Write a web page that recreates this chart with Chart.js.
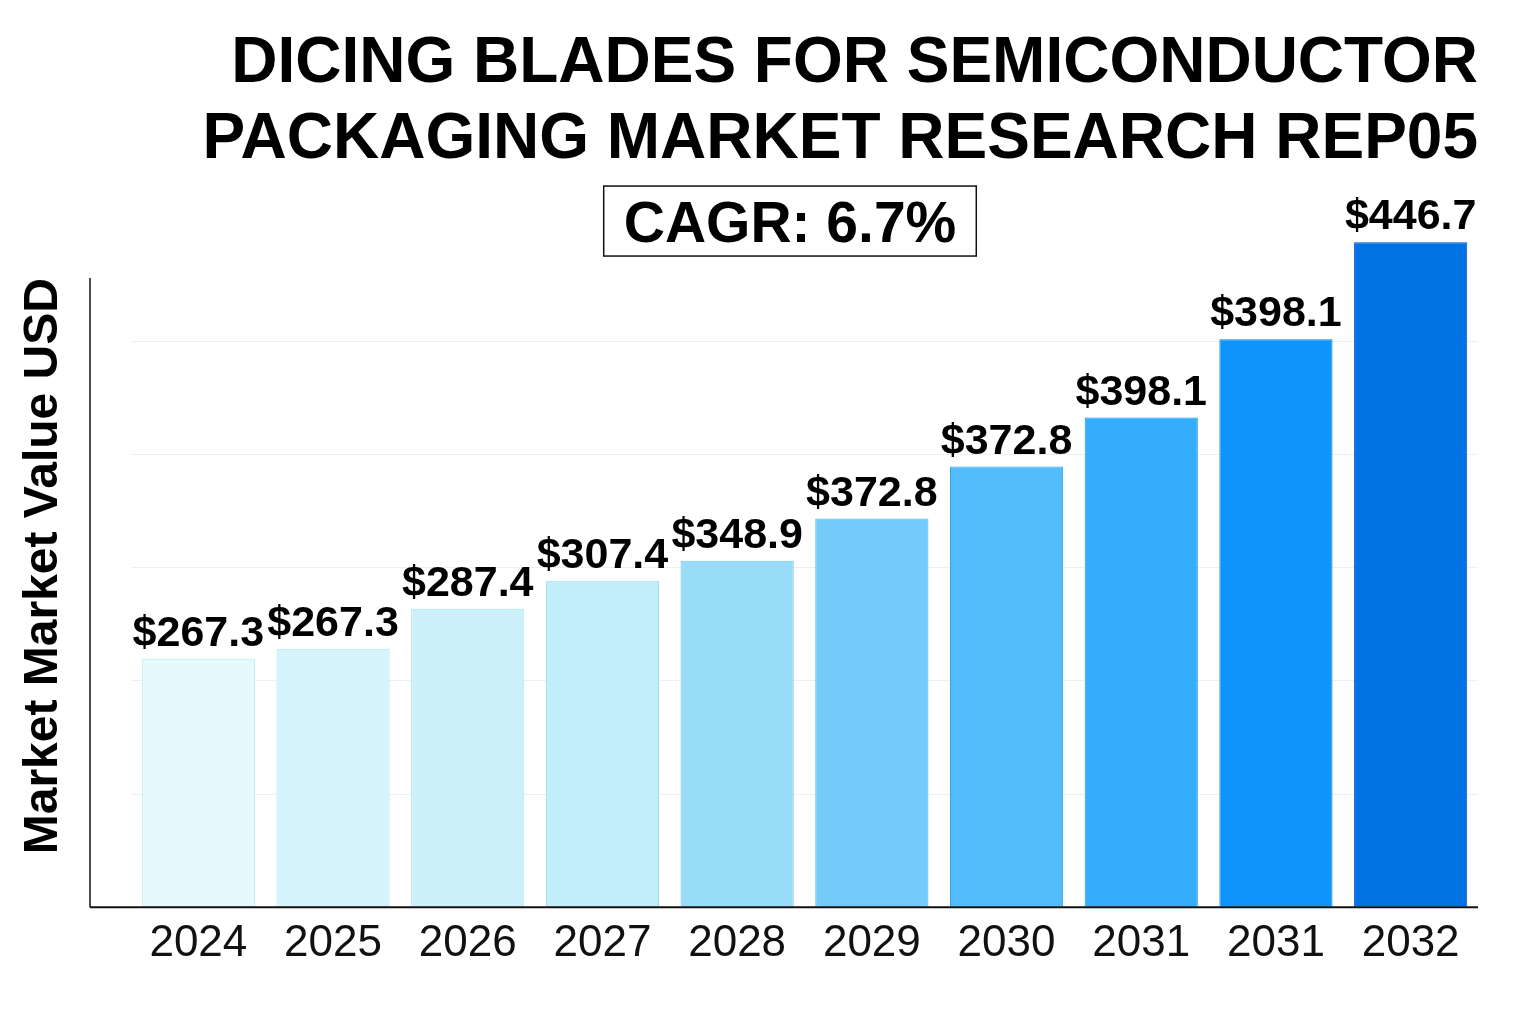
<!DOCTYPE html>
<html>
<head>
<meta charset="utf-8">
<title>Dicing Blades for Semiconductor Packaging Market</title>
<script src="https://cdn.jsdelivr.net/npm/chart.js@4.4.1/dist/chart.umd.min.js"></script>
<style>
  html, body { margin: 0; padding: 0; background: #fff; }
  #wrap { width: 1536px; height: 1024px; }
</style>
</head>
<body>
<div id="wrap"><canvas id="chart" width="1536" height="1024"></canvas></div>
<script>
const years = ['2024', '2025', '2026', '2027', '2028', '2029', '2030', '2031', '2031', '2032'];
// values printed above the bars (USD)
const valueLabels = [267.3, 267.3, 287.4, 307.4, 348.9, 372.8, 372.8, 398.1, 398.1, 446.7];
// bar heights as drawn in the picture (they are not scaled to the printed values)
const barHeights = [219.5, 228.3, 263.7, 288.5, 306.2, 343.4, 389.4, 432.7, 501.8, 587.6];
const barColors = ['#e4fafd', '#d5f4fc', '#cdf1fb', '#c2edfb', '#98dcf8', '#72cbf9', '#53bdfb', '#34adfb', '#0e95fb', '#0173e4'];
const barBorders = ['#b7e9f2', '#aee6f4', '#a6e1f2', '#9dddf2', '#6cc8ef', '#45b5ea', '#2ea6ea', '#1b96ea', '#0a7fe0', '#0456c4'];
const titleLines = ['DICING BLADES FOR SEMICONDUCTOR', 'PACKAGING MARKET RESEARCH REP05'];
const cagrText = 'CAGR: 6.7%';
const yAxisTitle = 'Market Market Value USD';

const FONT = '"Liberation Sans", Arial, Helvetica, sans-serif';

// value labels, axis lines and the CAGR box
const decorations = {
  id: 'decorations',
  afterDatasetsDraw(chart) {
    const { ctx, chartArea } = chart;
    const meta = chart.getDatasetMeta(0);
    ctx.save();

    ctx.fillStyle = '#000';
    ctx.font = 'bold 43px ' + FONT;
    ctx.textAlign = 'center';
    ctx.textBaseline = 'alphabetic';
    meta.data.forEach((bar, i) => {
      ctx.fillText('$' + valueLabels[i].toFixed(1), bar.x, bar.y - 13);
    });

    const axisX = chartArea.left - 41;
    ctx.strokeStyle = '#111';
    ctx.lineWidth = 1.5;
    ctx.beginPath();
    ctx.moveTo(axisX, chartArea.top);
    ctx.lineTo(axisX, chartArea.bottom);
    ctx.stroke();
    ctx.lineWidth = 2;
    ctx.beginPath();
    ctx.moveTo(axisX, chartArea.bottom);
    ctx.lineTo(chartArea.right, chartArea.bottom);
    ctx.stroke();

    ctx.font = 'bold 57px ' + FONT;
    const w = ctx.measureText(cagrText).width + 40;
    const cx = 790;
    const top = chartArea.top - 92;
    ctx.lineWidth = 1.5;
    ctx.strokeStyle = '#111';
    ctx.strokeRect(cx - w / 2, top, w, 70);
    ctx.fillText(cagrText, cx, top + 56);

    ctx.restore();
  }
};

new Chart(document.getElementById('chart'), {
  type: 'bar',
  data: {
    labels: years,
    datasets: [{
      data: barHeights,
      backgroundColor: barColors,
      borderColor: barBorders,
      borderWidth: 1,
      barPercentage: 0.84,
      categoryPercentage: 1,
      clip: false
    }]
  },
  options: {
    responsive: false,
    animation: false,
    devicePixelRatio: 1,
    layout: { padding: { top: 0, right: 58, bottom: 52, left: 0 } },
    plugins: {
      legend: { display: false },
      tooltip: { enabled: false },
      title: {
        display: true,
        text: titleLines,
        align: 'end',
        color: '#000',
        font: { family: FONT, size: 64, weight: 'bold', lineHeight: 1.18 },
        padding: { top: 27, bottom: 100 }
      }
    },
    scales: {
      x: {
        grid: { display: false },
        border: { display: false },
        ticks: {
          color: '#111',
          padding: 2,
          font: { family: FONT, size: 44 }
        }
      },
      y: {
        min: 0,
        max: 556,
        border: { display: false },
        grid: {
          drawTicks: false,
          color: ctx => (ctx.tick && ctx.tick.value > 0 && ctx.tick.value % 100 === 0) ? '#e8f2f5' : 'rgba(0,0,0,0)'
        },
        ticks: { display: false, stepSize: 100 },
        title: {
          display: true,
          text: yAxisTitle,
          align: 'end',
          color: '#000',
          font: { family: FONT, size: 48, weight: 'bold' },
          padding: { top: 15, bottom: 0 }
        },
        afterFit(scale) { scale.width = 131; }
      }
    }
  },
  plugins: [decorations]
});
</script>
</body>
</html>
